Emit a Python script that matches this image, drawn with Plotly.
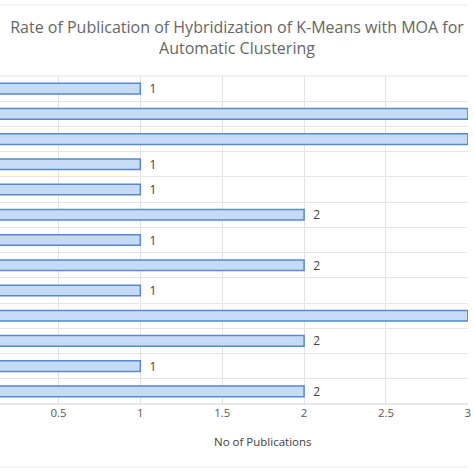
import plotly.graph_objects as go

# data (category names are cut off in the source picture)
studies = ["S1", "S2", "S3", "S4", "S5", "S6", "S7", "S8", "S9", "S10", "S11", "S12", "S13"]
publications = [1, 3, 3, 1, 1, 2, 1, 2, 1, 3, 2, 1, 2]

# labels of the longest bars fall off the cropped picture
labels = ["  " + str(v) if v < 3 else "" for v in publications]

fig = go.Figure(go.Bar(
    x=publications, y=studies, orientation="h",
    marker=dict(color="#c6dcf6", line=dict(color="#5689d0", width=1.5)),
    text=labels, textposition="outside", cliponaxis=False, constraintext="none",
    textfont=dict(family="Open Sans", size=12, color="#404040"),
))

fig.update_layout(
    width=474, height=474,
    margin=dict(l=0, r=6, t=76, b=70),
    paper_bgcolor="white", plot_bgcolor="white",
    bargap=0.58, showlegend=False,
    title=dict(text="Rate of Publication of Hybridization of K-Means with MOA for<br>Automatic Clustering",
               x=0.5, xanchor="center", y=0.9295, yanchor="middle",
               font=dict(family="Open Sans", size=16, color="#666666")),
    font=dict(family="Open Sans", size=11, color="#595959"),
)
fig.update_xaxes(range=[0.143, 3.001], dtick=0.5, tick0=0, showgrid=True, gridcolor="#e3e3e3",
                 zeroline=False, showline=False, ticks="", tickfont=dict(size=11.5, color="#595959"))
fig.update_yaxes(autorange="reversed", showticklabels=False, tickson="boundaries",
                 showgrid=True, gridcolor="#e6e6e6", ticks="", showline=False)
fig.add_annotation(text="No of Publications", xref="paper", yref="paper", x=0.563, y=-0.113,
                   xanchor="center", yanchor="middle", showarrow=False,
                   font=dict(family="Open Sans", size=11.5, color="#404040"))
fig.add_shape(type="line", xref="paper", yref="paper", x0=0, x1=1, y0=1, y1=1,
              line=dict(color="#e3e3e3", width=1))
fig.add_shape(type="line", xref="paper", yref="paper", x0=0, x1=1, y0=0, y1=0,
              line=dict(color="#d0d0d0", width=1))
# faint chart frame lines at top and bottom
fig.add_shape(type="line", xref="paper", yref="paper", x0=0, x1=1, y0=1.216, y1=1.216,
              line=dict(color="#ececec", width=1))
fig.add_shape(type="line", xref="paper", yref="paper", x0=0, x1=1, y0=-0.192, y1=-0.192,
              line=dict(color="#ececec", width=1))

fig.write_html("out.html", config={"displayModeBar": False},
               post_script="document.body.style.margin='0';")
